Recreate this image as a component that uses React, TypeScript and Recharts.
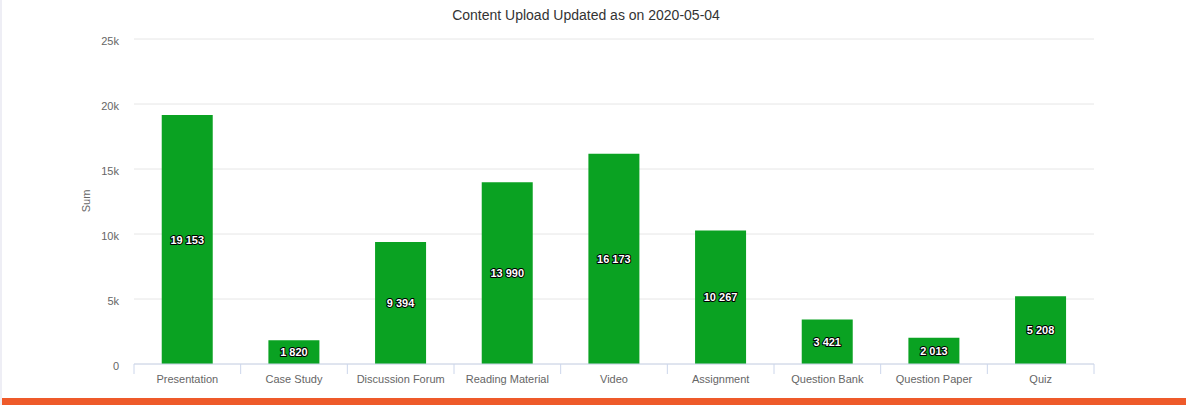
import { BarChart, Bar, XAxis, YAxis, CartesianGrid, LabelList } from "recharts";

const categories = [
  "Presentation",
  "Case Study",
  "Discussion Forum",
  "Reading Material",
  "Video",
  "Assignment",
  "Question Bank",
  "Question Paper",
  "Quiz",
];
const sums = [19153, 1820, 9394, 13990, 16173, 10267, 3421, 2013, 5208];
const yTicks = [0, 5000, 10000, 15000, 20000, 25000];

const data = categories.map((name, i) => ({ name, sum: sums[i] }));

const FONT = '"Liberation Sans", Arial, Helvetica, sans-serif';
const PLOT_W = 960;

const fmtK = (v: number) => (v === 0 ? "0" : `${v / 1000}k`);
const fmtSpace = (v: number) => String(v).replace(/\B(?=(\d{3})+(?!\d))/g, " ");

function CategoryTick(props: any) {
  const { x, y, payload, index } = props;
  const half = PLOT_W / categories.length / 2;
  return (
    <g>
      <line x1={x - half} y1={y} x2={x - half} y2={y + 10} stroke="#ccd6eb" />
      {index === categories.length - 1 && (
        <line x1={x + half} y1={y} x2={x + half} y2={y + 10} stroke="#ccd6eb" />
      )}
      <text x={x} y={y + 19} textAnchor="middle" fill="#666666" fontSize={11} fontFamily={FONT}>
        {payload.value}
      </text>
    </g>
  );
}

function ValueTick(props: any) {
  const { x, y, payload } = props;
  return (
    <text x={x} y={y + 5.5} textAnchor="end" fill="#666666" fontSize={11} fontFamily={FONT}>
      {fmtK(payload.value)}
    </text>
  );
}

function ValueLabel(props: any) {
  const { x, y, width, height, value } = props;
  return (
    <text
      x={x + width / 2}
      y={y + height / 2 + 4}
      textAnchor="middle"
      fontSize={11}
      fontWeight="bold"
      fontFamily={FONT}
      fill="#ffffff"
      stroke="#000000"
      strokeWidth={2}
      strokeLinejoin="round"
      style={{ paintOrder: "stroke" }}
    >
      {fmtSpace(value)}
    </text>
  );
}

export default function App() {
  return (
    <div
      style={{
        position: "absolute",
        left: 0,
        top: 0,
        width: 1186,
        height: 405,
        background: "#ffffff",
        fontFamily: FONT,
        overflow: "hidden",
      }}
    >
      <div style={{ position: "absolute", left: 0, top: 0, width: 2, height: 405, background: "#eeeef5" }} />
      <div
        style={{
          position: "absolute",
          left: 0,
          top: 7,
          width: 1172,
          textAlign: "center",
          fontSize: 14,
          color: "#333333",
        }}
      >
        Content Upload Updated as on 2020-05-04
      </div>
      <div
        style={{
          position: "absolute",
          left: 86,
          top: 201,
          transform: "translate(-50%, -50%) rotate(-90deg)",
          fontSize: 11,
          color: "#666666",
        }}
      >
        Sum
      </div>
      <div style={{ position: "absolute", left: 2, top: 398, width: 1184, height: 7, background: "#ee5a2a" }} />
      <BarChart
        width={1186}
        height={405}
        data={data}
        margin={{ top: 39, right: 92, left: 0, bottom: 11 }}
        barCategoryGap="26%"
      >
        <CartesianGrid vertical={false} stroke="#e6e6e6" />
        <XAxis
          dataKey="name"
          height={30}
          interval={0}
          tickSize={0}
          tickMargin={0}
          tickLine={false}
          axisLine={{ stroke: "#ccd6eb" }}
          tick={<CategoryTick />}
        />
        <YAxis
          width={134}
          domain={[0, 25000]}
          ticks={yTicks}
          tickSize={0}
          tickMargin={15}
          tickLine={false}
          axisLine={false}
          tick={<ValueTick />}
        />
        <Bar dataKey="sum" fill="#0aa222" isAnimationActive={false}>
          <LabelList dataKey="sum" content={<ValueLabel />} />
        </Bar>
      </BarChart>
    </div>
  );
}
